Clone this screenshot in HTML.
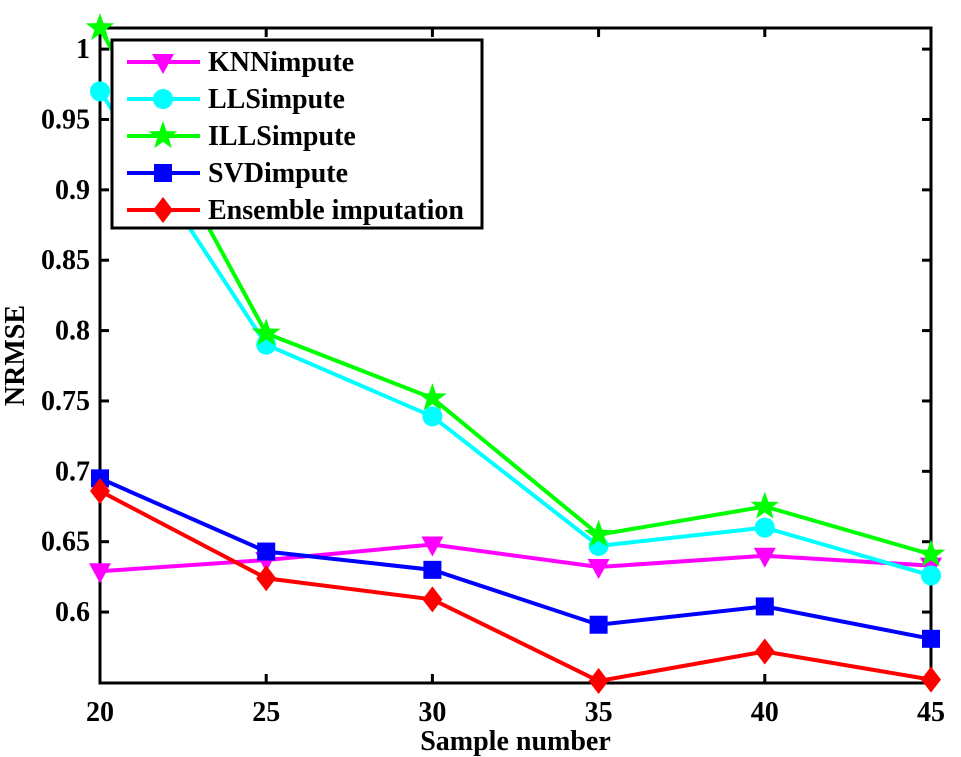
<!DOCTYPE html>
<html><head><meta charset="utf-8"><style>
body{margin:0;background:#fff}
svg{display:block}
svg text{font-family:"Liberation Serif",serif;font-weight:bold}
</style></head><body>
<svg id="chart" width="961" height="757" viewBox="0 0 961 757">
<rect x="0" y="0" width="961" height="757" fill="#fff"/>
<g id="plot"></g>
</svg>
<script>
const categories=[20,25,30,35,40,45];
const knn=[0.629,0.637,0.648,0.632,0.640,0.633];
const lls=[0.970,0.790,0.739,0.647,0.660,0.626];
const ills=[1.015,0.798,0.752,0.655,0.675,0.641];
const svd=[0.695,0.643,0.630,0.591,0.604,0.581];
const ens=[0.686,0.624,0.609,0.551,0.572,0.552];
const yTicks=[0.6,0.65,0.7,0.75,0.8,0.85,0.9,0.95,1];
const yTickLabels=["0.6","0.65","0.7","0.75","0.8","0.85","0.9","0.95","1"];
const xTickLabels=["20","25","30","35","40","45"];
const seriesNames=["KNNimpute","LLSimpute","ILLSimpute","SVDimpute","Ensemble imputation"];

const L=100,R=931,T=28,B=683;
const Y0=0.5496,Y1=1.015;
const sx=v=>L+(v-20)/25*(R-L);
const sy=v=>B-(v-Y0)/(Y1-Y0)*(B-T);
const NS="http://www.w3.org/2000/svg";
const g=document.getElementById('plot');
function mk(t,a,p){const e=document.createElementNS(NS,t);for(const k in a)e.setAttribute(k,a[k]);(p||g).appendChild(e);return e;}

function marker(type,x,y,c,p){
  let e;
  if(type==='tri'){e=mk('polygon',{points:`${x-11},${y-8} ${x+11},${y-8} ${x},${y+12}`,fill:c},p);}
  else if(type==='circ'){e=mk('circle',{cx:x,cy:y,r:10,fill:c},p);}
  else if(type==='star'){let pts=[];for(let i=0;i<10;i++){const r=i%2?6:15;const a=-Math.PI/2+i*Math.PI/5;pts.push((x+r*Math.cos(a)).toFixed(1)+','+(y+r*Math.sin(a)).toFixed(1));}e=mk('polygon',{points:pts.join(' '),fill:c},p);}
  else if(type==='sq'){e=mk('rect',{x:x-9,y:y-9,width:18,height:18,fill:c},p);}
  else {e=mk('polygon',{points:`${x},${y-13} ${x+10},${y} ${x},${y+13} ${x-10},${y}`,fill:c},p);}
  return e;
}

const frame=mk('rect',{x:L,y:T,width:R-L,height:B-T,fill:'none',stroke:'#000','stroke-width':3});



yTicks.forEach((v,i)=>{
  const y=sy(v);
  const t=mk('line',{x1:L,x2:L+9,y1:y,y2:y,stroke:'#000','stroke-width':3});
  
  
  mk('line',{x1:R,x2:R-9,y1:y,y2:y,stroke:'#000','stroke-width':3});
  const tx=mk('text',{x:L-10,y:y+9,'text-anchor':'end','font-size':28});
  tx.textContent=yTickLabels[i];
  
  
});
categories.forEach((v,i)=>{
  const x=sx(v);
  const t=mk('line',{x1:x,x2:x,y1:B,y2:B-9,stroke:'#000','stroke-width':3});
  
  
  mk('line',{x1:x,x2:x,y1:T,y2:T+9,stroke:'#000','stroke-width':3});
  const tx=mk('text',{x:x,y:B+38,'text-anchor':'middle','font-size':28});
  tx.textContent=xTickLabels[i];
  
  
});
const xt=mk('text',{x:(L+R)/2,y:750,'text-anchor':'middle','font-size':28});
xt.textContent='Sample number';


const yt=mk('text',{x:0,y:0,'text-anchor':'middle','font-size':28,transform:`translate(24,${(T+B)/2}) rotate(-90)`});
yt.textContent='NRMSE';



const series=[[knn,'#ff00ff','tri'],[lls,'#00ffff','circ'],[ills,'#00ff00','star'],[svd,'#0000ff','sq'],[ens,'#ff0000','dia']];
series.forEach(([d,c,m],si)=>{
  const sg=mk('g',{});
  
  
  mk('polyline',{points:d.map((v,i)=>sx(categories[i])+','+sy(v)).join(' '),fill:'none',stroke:c,'stroke-width':4},sg);
  d.forEach((v,i)=>{
    const e=marker(m,sx(categories[i]),sy(v),c,sg);
    
    
  });
});

const lg=mk('g',{});


mk('rect',{x:112,y:40,width:370,height:188,fill:'#fff',stroke:'#000','stroke-width':3},lg);
series.forEach(([d,c,m],si)=>{
  const y=62+si*37;
  const eg=mk('g',{},lg);
  
  
  mk('line',{x1:127,x2:200,y1:y,y2:y,stroke:c,'stroke-width':4},eg);
  marker(m,163,y,c,eg);
  const tx=mk('text',{x:208,y:y+9,'font-size':28},eg);
  tx.textContent=seriesNames[si];
});
</script>
</body></html>
